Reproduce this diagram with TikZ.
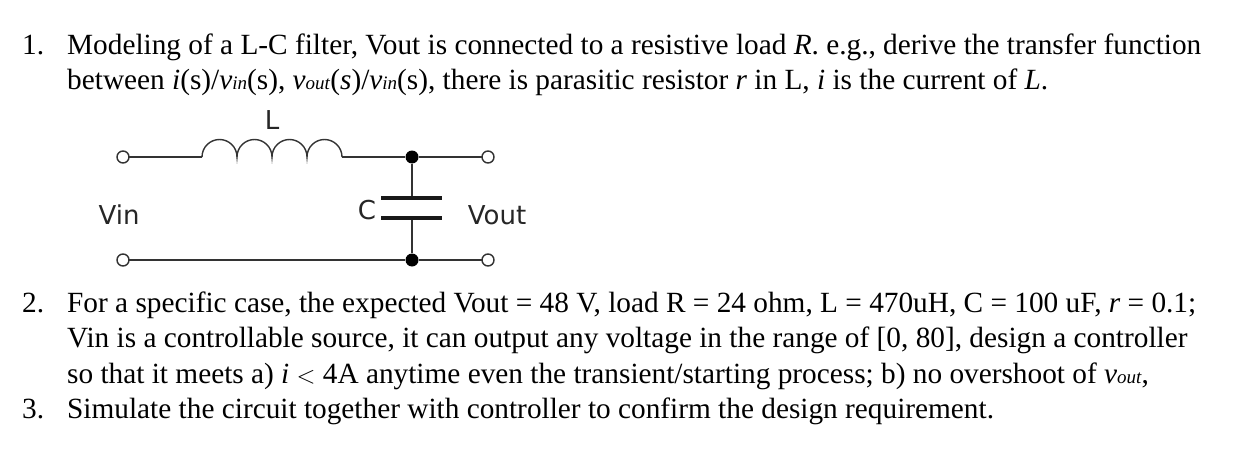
\documentclass[tikz,border=0pt]{standalone}
\usepackage{fontspec}
\setmainfont{Liberation Serif}
\newfontfamily\cir{DejaVu Sans}
\begin{document}
\begin{tikzpicture}[x=1pt,y=-1pt,
  txt/.style={anchor=base west,inner sep=0pt,font=\fontsize{29.3}{34}\selectfont},
  ctx/.style={inner sep=0pt,font=\cir\fontsize{26}{30}\selectfont,text=black!85},
  wire/.style={line width=1.4pt,black!80},
  term/.style={circle,draw=black!80,line width=1.4pt,fill=white,minimum size=12pt,inner sep=0pt},
  dot/.style={circle,fill=black,minimum size=13pt,inner sep=0pt}]
\useasboundingbox (0,0) rectangle (1236,476);
\newcommand{\sv}[1]{\textit{v}{\fontsize{19}{22}\selectfont\textit{#1}}}
\node[txt] (n1) at (22,55) {1.};
\node[txt] (l1) at (67,55) {Modeling of a L-C filter, Vout is connected to a resistive load \textit{R}. e.g., derive the transfer function};
\node[txt] (l2) at (67,90) {between \textit{i}(s)/\sv{in}(s), \sv{out}(\textit{s})/\sv{in}(s), there is parasitic resistor \textit{r} in L, \textit{i} is the current of \textit{L}.};
\node[txt] (n2) at (22,312) {2.};
\node[txt] (l3) at (67,312) {For a specific case, the expected Vout = 48 V, load R = 24 ohm, L = 470uH, C = 100 uF, \textit{r} = 0.1;};
\node[txt] (l4) at (67,347) {Vin is a controllable source, it can output any voltage in the range of [0, 80], design a controller};
\node[txt] (l5) at (67,383) {so that it meets a) \textit{i} $<$ 4A anytime even the transient/starting process; b) no overshoot of \sv{out},};
\node[txt] (n3) at (22,418) {3.};
\node[txt] (l6) at (67,418) {Simulate the circuit together with controller to confirm the design requirement.};
% circuit
\coordinate (la) at (202,157);
\coordinate (lb) at (342,157);
\coordinate (cp1) at (412,198);
\coordinate (cp2) at (412,218);
\node[dot] (jt) at (412,157) {};
\node[dot] (jb) at (412,260) {};
\draw[wire] (123,157) -- (la);
\draw[wire] (la) \foreach \k in {0,1,2,3} { arc[start angle=180,end angle=360,radius=17.5] };
\draw[wire] (lb) -- (jt) -- (488,157);
\draw[wire] (123,260) -- (jb) -- (488,260);
\draw[wire] (jt) -- (cp1);
\draw[wire] (cp2) -- (jb);
\draw[line width=4pt,black!90] (381,198) -- (442,198);
\draw[line width=4pt,black!90] (381,218) -- (442,218);
\node[term] (t1) at (123,157) {};
\node[term] (t2) at (123,260) {};
\node[term] (t3) at (488,157) {};
\node[term] (t4) at (488,260) {};
\node[ctx] (Lb) at (272,120) {L};
\node[ctx] (Cb) at (367,210) {C};
\node[ctx] (vin) at (119,215) {Vin};
\node[ctx] (vout) at (497,215) {Vout};
\end{tikzpicture}
\end{document}
